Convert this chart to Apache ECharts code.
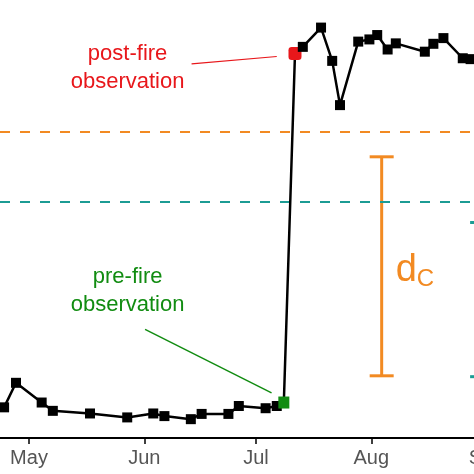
<!DOCTYPE html>
<html>
<head>
<meta charset="utf-8">
<script src="https://cdn.jsdelivr.net/npm/echarts@6/dist/echarts.min.js"></script>
<style>
  html, body { margin: 0; padding: 0; overflow: hidden; background: #fff; }
  #chart { width: 520px; height: 474px; }
</style>
</head>
<body>
<div id="chart"></div>
<script>
// day of year of each observation
var obsDays = [114.3, 117.5, 124.4, 127.4, 137.4, 147.4, 154.4, 157.4, 164.5, 167.4,
               174.6, 177.4, 184.6, 187.6, 189.5, 192.5, 194.6, 199.5, 202.5, 204.6,
               209.5, 212.5, 214.6, 217.4, 219.6, 227.4, 229.7, 232.4, 237.6, 239.7];
// index value (axis itself is not shown in the crop)
var obsValues = [0.070, 0.126, 0.081, 0.062, 0.056, 0.047, 0.056, 0.050, 0.043, 0.055,
                 0.055, 0.073, 0.068, 0.073, 0.081, 0.878, 0.893, 0.937, 0.861, 0.760,
                 0.905, 0.910, 0.920, 0.887, 0.901, 0.882, 0.900, 0.913, 0.867, 0.865];
var preFireIdx = 14;
var postFireIdx = 15;

var monthTicks = [121, 152, 182, 213, 244];
var monthLabels = ['May', 'Jun', 'Jul', 'Aug', 'Sep'];

// horizontal thresholds
var orangeLevel = 0.699;
var tealLevel = 0.5445;
// vertical distance bars: [day, low, high]
var orangeBar = [215.8, 0.142, 0.642];
var tealBar = [242.8, 0.140, 0.492];

var ORANGE = '#F28A22', TEAL = '#1C9C94', RED = '#E8171B', GREEN = '#118C11';

var chart = echarts.init(document.getElementById('chart'));

var points = obsDays.map(function (d, i) {
    var item = { value: [d, obsValues[i]] };
    if (i === preFireIdx) {
        item.symbol = 'rect';
        item.symbolSize = [11, 12];
        item.itemStyle = { color: GREEN };
    } else if (i === postFireIdx) {
        item.symbol = 'roundRect';
        item.symbolSize = 13;
        item.itemStyle = { color: RED };
    }
    return item;
});

function errBar(params, api) {
    var x = api.value(0);
    var top = api.coord([x, api.value(2)]);
    var bot = api.coord([x, api.value(1)]);
    var col = api.value(3) === 0 ? ORANGE : TEAL;
    var st = { stroke: col, lineWidth: 3 };
    var kids = [
        { type: 'line', shape: { x1: top[0], y1: top[1], x2: bot[0], y2: bot[1] }, style: st },
        { type: 'line', shape: { x1: top[0] - 12, y1: top[1], x2: top[0] + 12, y2: top[1] }, style: st },
        { type: 'line', shape: { x1: bot[0] - 12, y1: bot[1], x2: bot[0] + 12, y2: bot[1] }, style: st }
    ];
    if (api.value(3) === 0) {
        kids.push({
            type: 'text',
            x: top[0] + 14,
            y: (top[1] + bot[1]) / 2 + 4,
            style: {
                text: '{d|d}{c|C}',
                fill: ORANGE,
                verticalAlign: 'middle',
                rich: {
                    d: { fontSize: 38, fill: ORANGE, fontFamily: 'Liberation Sans, Arial, sans-serif' },
                    c: { fontSize: 24, fill: ORANGE, fontFamily: 'Liberation Sans, Arial, sans-serif', padding: [18, 0, 0, 0] }
                }
            }
        });
    }
    return { type: 'group', children: kids };
}

var labelFont = 'Liberation Sans, Arial, sans-serif';

chart.setOption({
    animation: false,
    grid: { left: 0, right: 0, top: 0, bottom: 36 },
    xAxis: {
        type: 'value',
        min: 113.2,
        max: 113.2 + 520 / 3.72,
        axisLine: { lineStyle: { color: '#000', width: 2 } },
        axisTick: { show: true, customValues: monthTicks, length: 6, lineStyle: { color: '#000', width: 1.5 } },
        axisLabel: {
            customValues: monthTicks,
            margin: 10,
            fontSize: 20,
            color: '#555',
            fontFamily: labelFont,
            formatter: function (v) { return monthLabels[monthTicks.indexOf(v)]; }
        },
        splitLine: { show: false }
    },
    yAxis: { type: 'value', min: 0, max: 1, show: false },
    series: [{
        type: 'line',
        data: points,
        symbol: 'rect',
        symbolSize: 10,
        itemStyle: { color: '#000' },
        lineStyle: { color: '#000', width: 2.5 },
        z: 5,
        markLine: {
            silent: true,
            symbol: 'none',
            label: { show: false },
            data: [
                { yAxis: orangeLevel, lineStyle: { color: ORANGE, type: [10, 10], width: 2 } },
                { yAxis: tealLevel, lineStyle: { color: TEAL, type: [10, 10], width: 2 } },
                [{ coord: [164.7, 0.854] }, { coord: [187.6, 0.871], lineStyle: { color: RED, type: 'solid', width: 1.2 } }],
                [{ coord: [152.2, 0.248] }, { coord: [186.2, 0.103], lineStyle: { color: GREEN, type: 'solid', width: 1.5 } }]
            ]
        },
        markPoint: {
            silent: true,
            symbol: 'circle',
            symbolSize: 1,
            itemStyle: { color: 'rgba(0,0,0,0)' },
            label: { show: true, position: 'inside', fontSize: 22, lineHeight: 28, fontFamily: labelFont },
            data: [
                { coord: [147.5, 0.846], label: { formatter: 'post-fire\nobservation', color: RED } },
                { coord: [147.5, 0.336], label: { formatter: 'pre-fire\nobservation', color: GREEN } }
            ]
        }
    }, {
        type: 'custom',
        renderItem: errBar,
        clip: false,
        data: [orangeBar.concat([0]), tealBar.concat([1])],
        z: 3
    }]
});
</script>
</body>
</html>
